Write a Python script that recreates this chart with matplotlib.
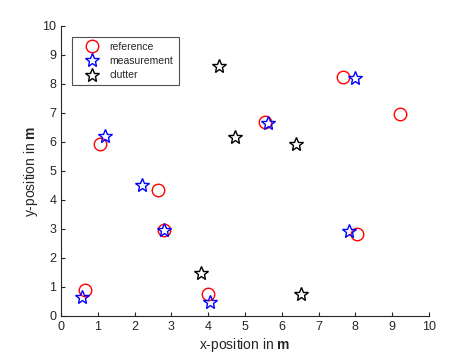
import matplotlib
matplotlib.use("Agg")
import matplotlib.pyplot as plt

plt.rcParams['font.family'] = ['Liberation Sans', 'DejaVu Sans']
plt.rcParams['mathtext.fontset'] = 'custom'
plt.rcParams['mathtext.rm'] = 'Liberation Sans'
plt.rcParams['mathtext.bf'] = 'Liberation Sans:bold'

ref_x = [0.65, 1.06, 2.64, 2.80, 4.00, 5.55, 7.66, 8.03, 9.21]
ref_y = [0.88, 5.93, 4.34, 2.97, 0.77, 6.69, 8.24, 2.84, 6.97]
meas_x = [0.57, 1.20, 2.20, 2.80, 4.05, 5.63, 8.00, 7.83]
meas_y = [0.64, 6.20, 4.53, 2.97, 0.47, 6.65, 8.20, 2.93]
clut_x = [4.30, 4.73, 6.39, 3.81, 6.52]
clut_y = [8.62, 6.17, 5.92, 1.47, 0.74]
ticks = list(range(0, 11))

fig = plt.figure(figsize=(4.74, 3.55), dpi=100)
ax = fig.add_axes([0.129, 0.110, 0.776, 0.817])

ax.plot(ref_x, ref_y, 'o', mfc='none', mec='#ff0000', ms=9, mew=1.0, ls='none', label='reference')
ax.plot(meas_x, meas_y, '*', mfc='none', mec='#0000ff', ms=10, mew=1.0, ls='none', label='measurement')
ax.plot(clut_x, clut_y, '*', mfc='none', mec='#000000', ms=10, mew=1.0, ls='none', label='clutter')

ax.set_xlim(0, 10)
ax.set_ylim(0, 10)
ax.set_xticks(ticks)
ax.set_yticks(ticks)
ax.spines['top'].set_visible(False)
ax.spines['right'].set_visible(False)
for s in ['left', 'bottom']:
    ax.spines[s].set_color('#262626')
    ax.spines[s].set_linewidth(0.8)
ax.tick_params(direction='in', length=3, width=0.8, colors='#262626', labelsize=9, labelcolor='#262626')
ax.set_xlabel(r'x-position in $\mathbf{m}$', fontsize=10, color='#262626', labelpad=2)
ax.set_ylabel(r'y-position in $\mathbf{m}$', fontsize=10, color='#262626', labelpad=2)

leg = ax.legend(loc='upper left', bbox_to_anchor=(0.03, 0.963), fontsize=7.5, frameon=True, fancybox=False,
                edgecolor='#262626', borderpad=0.5, labelspacing=0.4, handlelength=2.8,
                handletextpad=0.3, borderaxespad=0.0, numpoints=1)
leg.get_frame().set_linewidth(0.8)
for t in leg.get_texts():
    t.set_color('#262626')

fig.savefig('out.png', dpi=100)
